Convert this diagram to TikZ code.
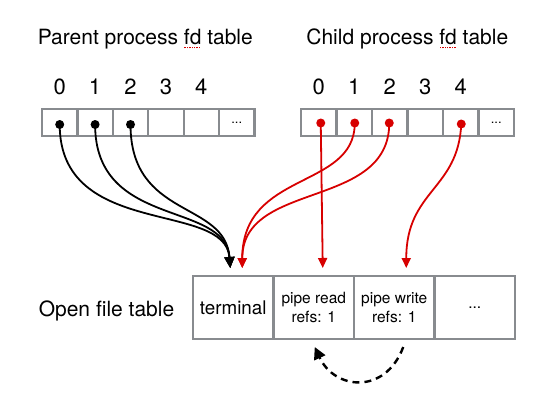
\documentclass[tikz,border=0pt]{standalone}
\usepackage{fontspec}
\setmainfont{TeX Gyre Heros}
\usetikzlibrary{arrows.meta,calc}
\definecolor{cellgray}{RGB}{136,139,143}
\definecolor{linkred}{RGB}{215,0,0}
\newsavebox\spellbox
\newcommand\spellmark[1]{\sbox\spellbox{#1}\rlap{\raisebox{-4pt}{\color{linkred}\leaders\hbox to 2.4pt{\hss\rule{1.3pt}{1.3pt}\hss}\hskip\wd\spellbox}}\usebox\spellbox}
\begin{document}
\begin{tikzpicture}[x=1pt,y=-1pt,
  cell/.style={draw=cellgray,line width=2.2pt,minimum width=35.4pt,minimum height=27pt,inner sep=0pt,outer sep=0pt,font=\fontsize{13}{15}\selectfont},
  fcell/.style={draw=cellgray,line width=2.2pt,minimum width=80.5pt,minimum height=63pt,inner sep=0pt,outer sep=0pt,align=center,font=\fontsize{15.5}{19.5}\selectfont},
  title/.style={anchor=base,inner sep=0pt,font=\fontsize{21}{25}\selectfont},
  digit/.style={anchor=base,inner sep=0pt,font=\fontsize{22}{26}\selectfont},
  bdot/.style={circle,fill=black,minimum size=9pt,inner sep=0pt},
  rdot/.style={circle,fill=linkred,minimum size=9pt,inner sep=0pt},
  blink/.style={line width=1.8pt,-{Triangle[width=10pt,length=11pt]}},
  rlink/.style={color=linkred,line width=1.8pt,-{Triangle[width=9pt,length=10pt]}},
  dlink/.style={line width=2.4pt,dash pattern=on 7pt off 5pt,-{Triangle[width=12pt,length=12pt]}}]
\useasboundingbox (0,0) rectangle (548,417);
% titles
\node[title] (ptitle) at (145.3,44.3) {Parent process \spellmark{fd} table};
\node[title] (ctitle) at (407.3,44.3) {Child process \spellmark{fd} table};
% parent table
\foreach \i in {0,...,4} \node[cell] (p\i) at ({42+35.4*(\i+0.5)},122.5) {};
\node[cell] (p5) at ({42+35.4*5.5},122.5) {...};
% child table
\foreach \i in {0,...,4} \node[cell] (c\i) at ({301+35.5*(\i+0.5)},122.5) {};
\node[cell] (c5) at ({301+35.5*5.5},122.5) {...};
% digits
\foreach \i in {0,...,4} {
  \node[digit] (pn\i) at ($(p\i.center)+(0,-28)$) {\i};
  \node[digit] (cn\i) at ($(c\i.center)+(0,-28)$) {\i};
}
% open file table
\node[title] (otitle) at (106.5,316) {Open file table};
\node[fcell,font=\fontsize{18.8}{22}\selectfont] (f0) at (233.25,307.5) {terminal};
\node[fcell] (f1) at (313.75,307.5) {pipe read\\refs: 1};
\node[fcell] (f2) at (394.25,307.5) {pipe write\\refs: 1};
\node[fcell] (f3) at (474.75,307.5) {...};
% dots
\node[bdot] (pd0) at ($(p0.center)+(0,2)$) {};
\node[bdot] (pd1) at ($(p1.center)+(0,2)$) {};
\node[bdot] (pd2) at ($(p2.center)+(0,2)$) {};
\node[rdot] (cd0) at ($(c0.center)+(2,0.5)$) {};
\node[rdot] (cd1) at ($(c1.center)+(0.5,0.5)$) {};
\node[rdot] (cd2) at ($(c2.center)+(-0.5,0.5)$) {};
\node[rdot] (cd4) at ($(c4.center)+(0.5,1.5)$) {};
% arrow targets
\coordinate (tb) at ($(f0.north)+(-3,-8)$);
\coordinate (tr) at ($(f0.north)+(9,-8)$);
\coordinate (tpr) at ($(f1.north)+(9,-8)$);
\coordinate (tpw) at ($(f2.north)+(12,-8)$);
% black links
\draw[blink] (pd0.center) .. controls +(0,115) and +(-5,-68) .. (tb);
\draw[blink] (pd1.center) .. controls +(0,105) and +(-5,-68) .. (tb);
\draw[blink] (pd2.center) .. controls +(0,95) and +(-5,-68) .. (tb);
% red links
\draw[rlink] (cd0.center) -- (tpr);
\draw[rlink] (cd1.center) .. controls +(0,67) and +(0,-98) .. (tr);
\draw[rlink] (cd2.center) .. controls +(0,87) and +(0,-88) .. (tr);
\draw[rlink] (cd4.center) .. controls +(-3,66) and +(0,-78) .. (tpw);
% dashed link
\coordinate (ds) at ($(f2.south)+(9,8)$);
\coordinate (de) at ($(f1.south)+(1,8)$);
\draw[dlink] (ds) .. controls +(-18,48) and +(20,43) .. (de);
\end{tikzpicture}
\end{document}
